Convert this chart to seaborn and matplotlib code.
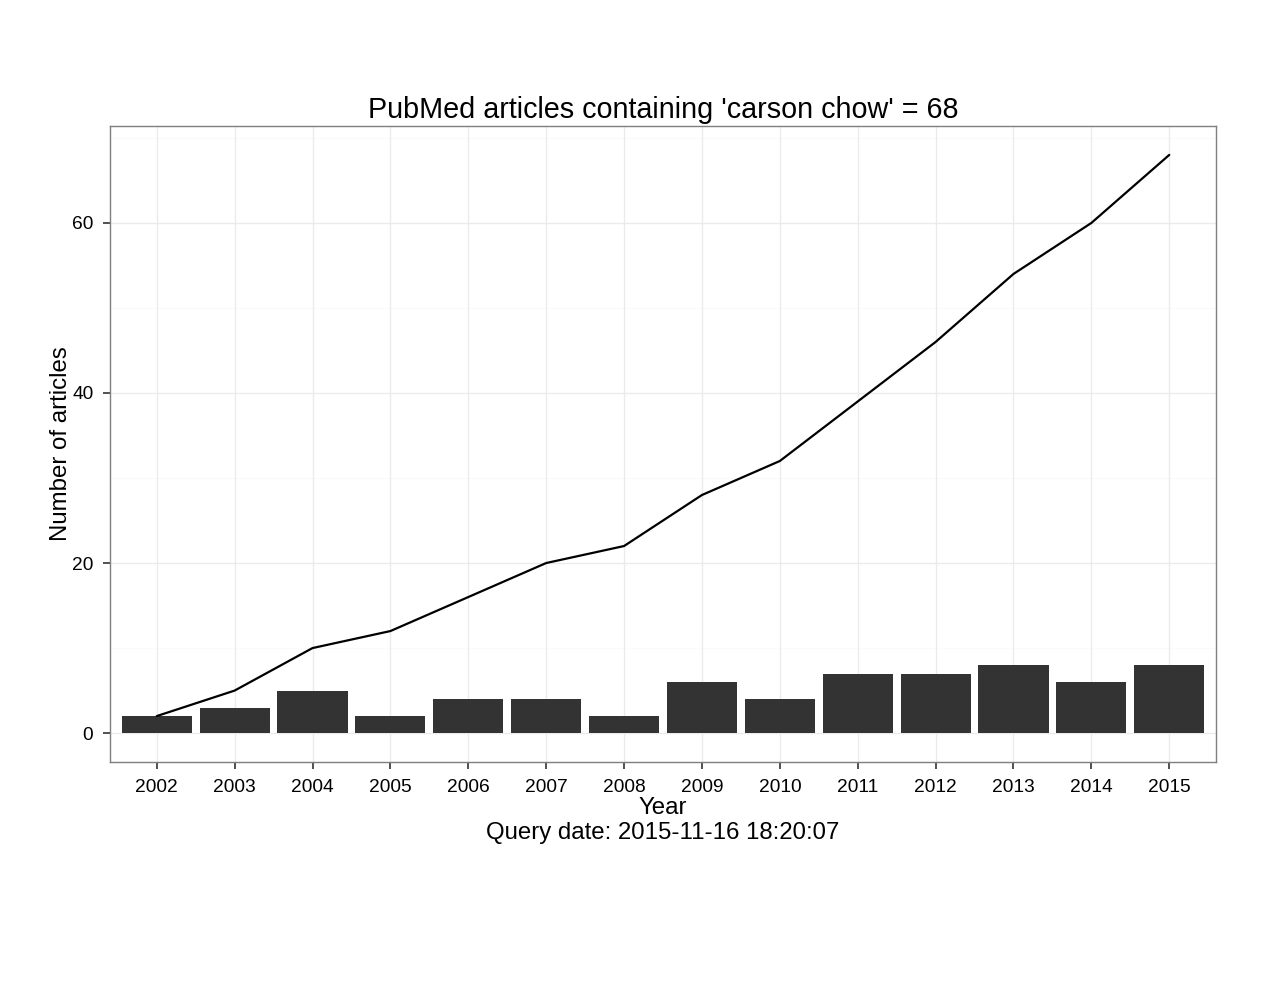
import seaborn as sns
import matplotlib.pyplot as plt
import pandas as pd
import numpy as np

# Articles per year (bars) and running total (line)
years = ["2002", "2003", "2004", "2005", "2006", "2007", "2008",
         "2009", "2010", "2011", "2012", "2013", "2014", "2015"]
counts = [2, 3, 5, 2, 4, 4, 2, 6, 4, 7, 7, 8, 6, 8]
cumulative = [2, 5, 10, 12, 16, 20, 22, 28, 32, 39, 46, 54, 60, 68]

df = pd.DataFrame({"year": years, "count": counts, "total": cumulative})

sns.set_style("white")
plt.rcParams['font.family'] = ['Liberation Sans', 'DejaVu Sans']
plt.rcParams['text.color'] = 'black'
plt.rcParams['axes.labelcolor'] = 'black'

fig = plt.figure(figsize=(12.78, 10.06), dpi=100)
ax = fig.add_axes([110 / 1278, 1 - 762 / 1006, 1106 / 1278, 636 / 1006])

# grid (major + faint minor, theme_bw style)
for y in [10, 30, 50, 70]:
    ax.axhline(y, color="#FAFAFA", lw=1.0, zorder=0)
for y in [0, 20, 40, 60]:
    ax.axhline(y, color="#EBEBEB", lw=1.0, zorder=0)
for i in range(len(years)):
    ax.axvline(i, color="#EBEBEB", lw=1.0, zorder=0)

sns.barplot(data=df, x="year", y="count", color="#333333", saturation=1,
            width=0.9, linewidth=0, ax=ax, zorder=2)
sns.lineplot(x=np.arange(len(years)), y=df["total"], color="black",
             lw=1.6, ax=ax, zorder=3)

ax.set_xlim(-0.6, len(years) - 0.4)
ax.set_ylim(-3.4, 71.4)
ax.set_yticks([0, 20, 40, 60])

for s in ax.spines.values():
    s.set_visible(True)
    s.set_color("#7F7F7F")
    s.set_linewidth(1.0)

ax.tick_params(axis="both", which="major", bottom=True, left=True,
               direction="out", length=5, width=1.2,
               color="#333333", labelsize=13.8, labelcolor="black")
ax.tick_params(axis="x", pad=7)
ax.tick_params(axis="y", pad=7)

ax.set_xlabel("Year\nQuery date: 2015-11-16 18:20:07", fontsize=17.3,
              linespacing=1.2, labelpad=1)
ax.set_ylabel("Number of articles", fontsize=17.3, labelpad=0)
ax.set_title("PubMed articles containing 'carson chow' = 68",
             fontsize=20.7, pad=6)

fig.savefig("out.png", dpi=100, facecolor="white")
